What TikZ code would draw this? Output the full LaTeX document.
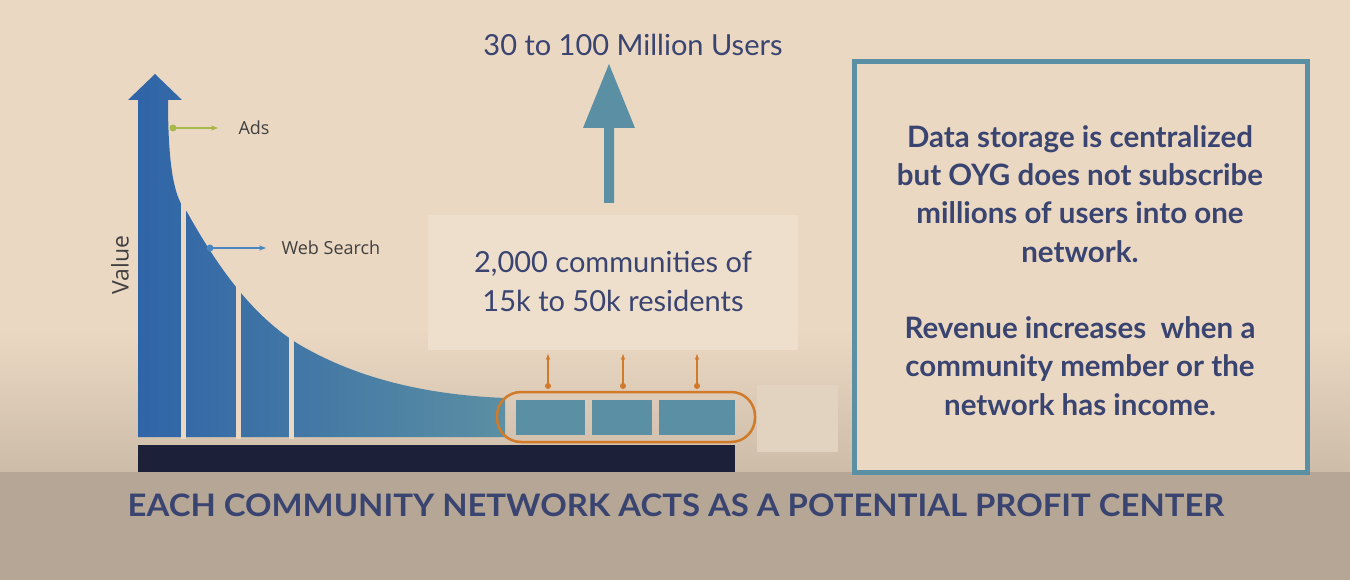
\documentclass[tikz,border=0pt]{standalone}
\usepackage{fontspec}
\setmainfont{Lato}
\newfontfamily\sansb{Open Sans}
\usetikzlibrary{arrows.meta}
\definecolor{bgtop}{HTML}{EAD8C3}
\definecolor{bgmid}{RGB}{205,188,168}
\definecolor{bgbot}{HTML}{B5A695}
\definecolor{panelA}{RGB}{238,222,204}
\definecolor{panelB}{RGB}{226,211,193}
\definecolor{navy}{HTML}{3A4470}
\definecolor{teal}{HTML}{5B8FA3}
\definecolor{barl}{HTML}{2E63A8}
\definecolor{orng}{HTML}{D07A2A}
\definecolor{adsg}{RGB}{168,184,74}
\definecolor{wsb}{RGB}{74,134,192}
\definecolor{basebar}{RGB}{28,32,56}
\begin{document}
\begin{tikzpicture}[x=1pt,y=-1pt,
  lbl/.style={text=black!75, font=\sansb\fontsize{18}{19}\selectfont},
  oarr/.style={orng, line width=1.6pt, -{Stealth[length=6pt]}},
  comm/.style={fill=teal, draw=none}]
\useasboundingbox (0,0) rectangle (1350,580);
\fill[bgtop] (0,0) rectangle (1350,330);
\shade[top color=bgtop, bottom color=bgmid] (0,330) rectangle (1350,472);
\fill[bgbot] (0,472) rectangle (1350,580);
% light panels
\fill[panelA] (428,215) rectangle (798,350);
\fill[panelB] (757,385) rectangle (838,452);
% value chart
\shade[left color=barl, right color=teal]
  (138,437) -- (138,100) -- (128,100) -- (155,74) -- (182,100) -- (168,100)
  .. controls (168,170) and (175,200) .. (187,212)
  .. controls (215,262) and (250,315) .. (300,345)
  .. controls (360,380) and (430,395) .. (505,398) -- (505,437) -- cycle;
\foreach \x in {183.5,238.5,291} \draw[bgtop, line width=5pt] (\x,150) -- (\x,439);
\coordinate (a0) at (173,128); \coordinate (a1) at (218,128);
\fill[adsg] (a0) circle (3.5pt);
\draw[-{Stealth[length=7pt]}, adsg, line width=2pt] (a0) -- (a1);
\node[lbl, anchor=west] (ads) at (235,128) {Ads};
\coordinate (w0) at (210,248); \coordinate (w1) at (266,248);
\fill[wsb] (w0) circle (3.5pt);
\draw[-{Stealth[length=7pt]}, wsb, line width=2pt] (w0) -- (w1);
\node[lbl, anchor=west] (ws) at (278,248) {Web Search};
\node[lbl, rotate=90, font=\sansb\fontsize{23}{25}\selectfont] (val) at (120,265) {Value};
% base bar
\fill[basebar] (138,445) rectangle (735,472);
% communities
\node[comm, minimum width=69pt, minimum height=35pt] (c1) at (550.5,417.5) {};
\node[comm, minimum width=60pt, minimum height=35pt] (c2) at (622,417.5) {};
\node[comm, minimum width=76pt, minimum height=35pt] (c3) at (697,417.5) {};
\node[draw=orng, line width=2.5pt, rounded corners=24pt, minimum width=258pt, minimum height=50pt] (grp) at (626,417) {};
\foreach \x/\n in {548/a,623/b,697/c}{
  \coordinate (s\n) at (\x,386);
  \coordinate (e\n) at (\x,354);
  \fill[orng] (s\n) circle (3pt);
  \draw[oarr] (s\n) -- (e\n);
}
% big arrow
\fill[teal] (604,203) -- (604,128) -- (583,128) -- (609,64) -- (635,128) -- (614,128) -- (614,203) -- cycle;
\node[text=navy, font=\fontsize{29}{30}\selectfont] (top) at (633,45) {30 to 100 Million Users};
\node[text=navy, align=center, font=\fontsize{29}{39}\selectfont] (mid) at (613,281) {2,000 communities of\\15k to 50k residents};
% right box
\draw[teal, line width=5pt, fill=bgtop] (854,62) rectangle (1307,472);
\node[text=navy, align=center, font=\bfseries\fontsize{29.5}{38.2}\selectfont] (t1) at (1080,194) {Data storage is centralized\\but OYG does not subscribe\\millions of users into one\\network.};
\node[text=navy, align=center, font=\bfseries\fontsize{29.5}{38.2}\selectfont] (t2) at (1080,366) {Revenue increases\ \ when a\\community member or the\\network has income.};
\node[text=navy, font=\bfseries\fontsize{31}{32}\selectfont, xscale=1.06] (bt) at (676,505) {EACH COMMUNITY NETWORK ACTS AS A POTENTIAL PROFIT CENTER};
\end{tikzpicture}
\end{document}
